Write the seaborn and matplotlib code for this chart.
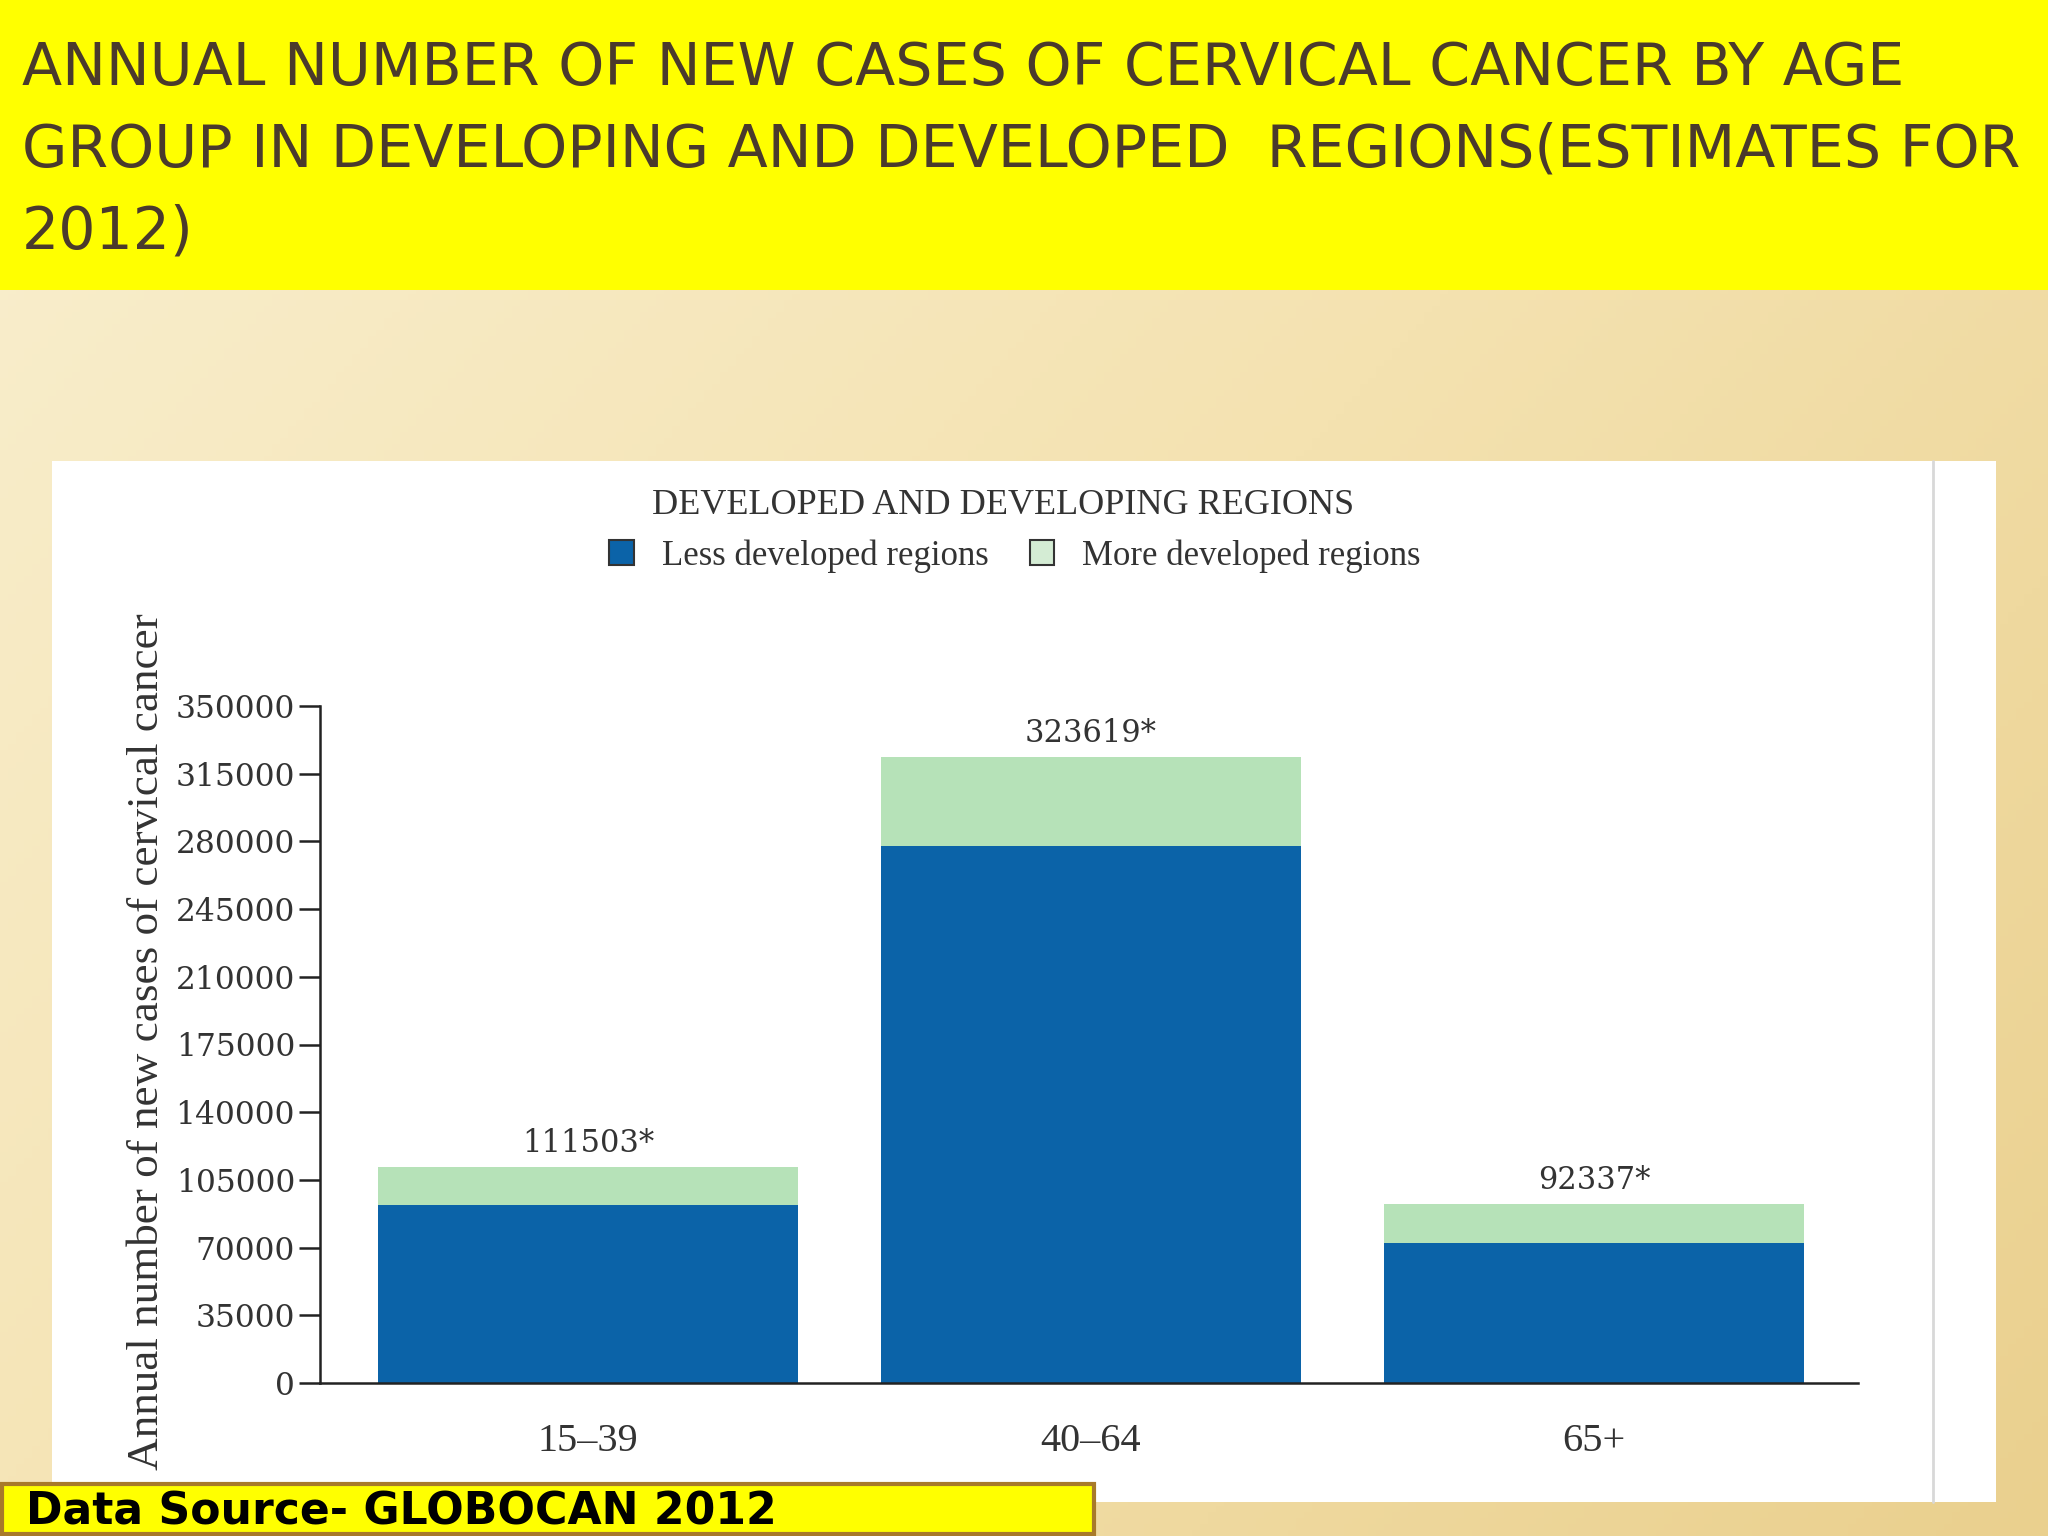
import matplotlib
matplotlib.use("Agg")
import matplotlib.pyplot as plt
import seaborn as sns
import numpy as np
import pandas as pd
from matplotlib.patches import Rectangle, Patch
from matplotlib.lines import Line2D
from matplotlib.colors import LinearSegmentedColormap
from matplotlib import font_manager

# ---- data ----
age_groups = ["15\u201339", "40\u201364", "65+"]
less_developed = [91900, 277700, 72300]
totals = [111503, 323619, 92337]
more_developed = [t - l for t, l in zip(totals, less_developed)]
total_labels = ["111503*", "323619*", "92337*"]
y_ticks = [0, 35000, 70000, 105000, 140000, 175000, 210000, 245000, 280000, 315000, 350000]

sns.set_theme(style="white")
plt.rcParams['font.family'] = ['Liberation Serif', 'DejaVu Serif']

available = {f.name for f in font_manager.fontManager.ttflist}
narrow = None
for cand in ["Liberation Sans Narrow", "DejaVu Sans Condensed", "Arial Narrow"]:
    if cand in available:
        narrow = cand
        break
sans_fam = [narrow, "DejaVu Sans"] if narrow else ["DejaVu Sans"]

W, H = 2048, 1536
fig = plt.figure(figsize=(W / 100, H / 100), dpi=100)
fig.patch.set_facecolor("#f3e2b6")

def fx(x):
    return x / W

def fy(y):
    return 1 - y / H

# background gradient (style only)
bg = fig.add_axes([0, 0, 1, 1], zorder=-10)
grad = np.linspace(0, 1, 256)
gx, gy = np.meshgrid(grad, grad)
img = 0.6 * gx + 0.4 * gy
cmap = LinearSegmentedColormap.from_list("bg", ["#f9efcf", "#f4e2b0", "#ead08e"])
bg.imshow(img, cmap=cmap, aspect="auto", extent=[0, 1, 0, 1], origin="upper")
bg.set_axis_off()

# yellow title band
fig.patches.append(Rectangle((0, fy(290)), 1, 290 / H, transform=fig.transFigure,
                             facecolor="#ffff00", edgecolor="none", zorder=-5))
title_lines = ["ANNUAL NUMBER OF NEW CASES OF CERVICAL CANCER BY AGE",
               "GROUP IN DEVELOPING AND DEVELOPED  REGIONS(ESTIMATES FOR",
               "2012)"]
title_texts = []
for i, line in enumerate(title_lines):
    y = 68 + i * 82
    t = fig.text(fx(22), fy(y), line, ha="left", va="center", fontsize=47,
                 family=["DejaVu Sans"], fontweight="normal", color="#4a3a2c", zorder=5)
    title_texts.append(t)

# white chart panel
fig.patches.append(Rectangle((fx(52), fy(1502)), (1996 - 52) / W, (1502 - 461) / H,
                             transform=fig.transFigure, facecolor="white",
                             edgecolor="none", zorder=-4))
fig.lines.append(Line2D([fx(1933), fx(1933)], [fy(1502), fy(461)], transform=fig.transFigure,
                        color="#d8d8d8", lw=2, zorder=-3))

# axes
ax = fig.add_axes([fx(320), fy(1383), (1858 - 320) / W, (1383 - 706) / H])
ax.set_facecolor("none")
df = pd.DataFrame({"age": age_groups, "less": less_developed, "total": totals})
sns.barplot(data=df, x="age", y="total", color="#b6e2b8", width=0.835, ax=ax,
            saturation=1, edgecolor="none")
sns.barplot(data=df, x="age", y="less", color="#0b63a8", width=0.835, ax=ax,
            saturation=1, edgecolor="none")
ax.set_xlim(-0.533, 2.525)
ax.set_ylim(0, 350000)
ax.set_yticks(y_ticks)
ax.set_yticklabels([str(v) for v in y_ticks], family=["DejaVu Serif"], fontsize=22.5,
                   color="#333333")
ax.tick_params(axis="y", length=15, width=1.8, color="#222222", pad=3, left=True)
ax.tick_params(axis="x", length=0, pad=29, labelsize=29, labelcolor="#333333")
for lab in ax.get_xticklabels():
    lab.set_family(["Liberation Serif"])
ax.set_xlabel("")
ax.set_ylabel("")
for s in ["top", "right"]:
    ax.spines[s].set_visible(False)
for s in ["left", "bottom"]:
    ax.spines[s].set_color("#222222")
    ax.spines[s].set_linewidth(1.8)

for i, lab in enumerate(total_labels):
    ax.annotate(lab, xy=(i, totals[i]), xytext=(0, 6), textcoords="offset points",
                ha="center", va="bottom", fontsize=22, family=["DejaVu Serif"],
                color="#333333", annotation_clip=False)

# y-axis label
fig.text(fx(147), fy(1042), "Annual number of new cases of cervical cancer", rotation=90,
         ha="center", va="center", fontsize=32.5, color="#333333")

# chart title and legend
fig.text(fx(1003), fy(505), "DEVELOPED AND DEVELOPING REGIONS", ha="center", va="center",
         fontsize=26, color="#333333")
handles = [Patch(facecolor="#0b63a8", edgecolor="#333333", lw=1.5, label="Less developed regions"),
           Patch(facecolor="#d4ecd4", edgecolor="#333333", lw=1.5, label="More developed regions")]
fig.legend(handles=handles, loc="center", bbox_to_anchor=(fx(1015), fy(556)), ncol=2,
           frameon=False, fontsize=25, handlelength=0.7, handleheight=0.7,
           handletextpad=0.8, columnspacing=1.2, labelcolor="#333333")

# data source box
fig.patches.append(Rectangle((fx(2), fy(1534)), 1092 / W, 50 / H, transform=fig.transFigure,
                             facecolor="#ffff00", edgecolor="#a87a2a", lw=3, zorder=6))
src = fig.text(fx(26), fy(1512), "Data Source- GLOBOCAN 2012", ha="left", va="center",
               fontsize=36, fontweight="bold", family=sans_fam, color="black", zorder=7)

# fit text widths to the reference layout
fig.canvas.draw()
renderer = fig.canvas.get_renderer()
w1 = title_texts[0].get_window_extent(renderer).width
tsize = title_texts[0].get_fontsize() * 1880 / w1
for t in title_texts:
    t.set_fontsize(tsize)
ws = src.get_window_extent(renderer).width
src.set_fontsize(min(src.get_fontsize() * 752 / ws, 40))

fig.savefig("out.png", dpi=100)
